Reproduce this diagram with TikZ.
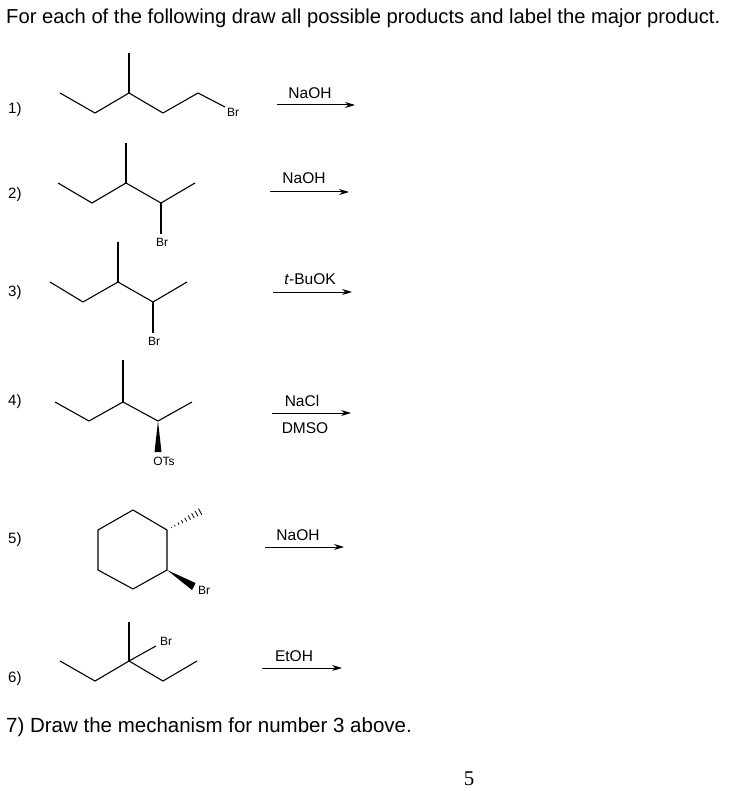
\documentclass[tikz,border=0pt]{standalone}
\usepackage{fontspec}
\setmainfont{Liberation Sans}
\newfontfamily\serifnum{Liberation Serif}
\usetikzlibrary{arrows.meta,calc}
\begin{document}
\begin{tikzpicture}[x=1pt,y=-1pt,
  bond/.style={line width=1.1pt,line join=miter},
  rxn/.style={line width=1pt,-{Stealth[length=10pt,width=6pt]}},
  atom/.style={font=\fontsize{12}{13}\selectfont,inner sep=0pt},
  reag/.style={font=\fontsize{15.5}{17}\selectfont,inner sep=0pt},
  num/.style={font=\fontsize{15}{16}\selectfont,inner sep=0pt,anchor=west}]
\useasboundingbox (0,0) rectangle (734,791);
\fill[white] (0,0) rectangle (734,791);
\node[anchor=west,inner sep=0pt,font=\fontsize{20.2}{22}\selectfont] (title) at (6,18) {For each of the following draw all possible products and label the major product.};
% numbers
\node[num] (n1) at (8,110) {1)};
\node[num] (n2) at (8,195) {2)};
\node[num] (n3) at (8,293) {3)};
\node[num] (n4) at (8,402) {4)};
\node[num] (n5) at (8,540) {5)};
\node[num] (n6) at (8,679) {6)};
\node[anchor=west,inner sep=0pt,font=\fontsize{20.5}{22}\selectfont] (q7) at (6,727) {7) Draw the mechanism for number 3 above.};
\node[inner sep=0pt,font=\serifnum\fontsize{21}{22}\selectfont] (pg) at (469,779) {5};
% 1
\draw[bond] (60,93) -- (95,113) -- (129,93) -- (163,113) -- (198,93) -- (225,107);
\draw[bond] (129,93) -- (129,53);
\node[atom] (br1) at (233,112) {Br};
\coordinate (a1s) at (277,105); \coordinate (a1e) at (355,105);
\draw[rxn] (a1s) -- (a1e);
\node[reag] (r1) at (310,93) {NaOH};
% 2
\draw[bond] (58,183) -- (92,203) -- (126,183) -- (161,203) -- (195,183);
\draw[bond] (126,183) -- (126,143);
\draw[bond] (161,203) -- (161,234);
\node[atom] (br2) at (162,242) {Br};
\coordinate (a2s) at (270,192); \coordinate (a2e) at (349,192);
\draw[rxn] (a2s) -- (a2e);
\node[reag] (r2) at (304,178) {NaOH};
% 3
\draw[bond] (50,282) -- (83,302) -- (118,282) -- (153,302) -- (187,282);
\draw[bond] (118,282) -- (118,242);
\draw[bond] (153,302) -- (153,333);
\node[atom] (br3) at (154,341) {Br};
\coordinate (a3s) at (273,292); \coordinate (a3e) at (352,292);
\draw[rxn] (a3s) -- (a3e);
\node[reag] (r3) at (310,279) {\textit{t}-BuOK};
% 4
\draw[bond] (55,402) -- (89,421) -- (123,402) -- (158,421) -- (192,402);
\draw[bond] (123,402) -- (123,360);
\fill (158,421) -- (161.5,452) -- (154.5,452) -- cycle;
\node[atom] (ots) at (164,461) {OTs};
\coordinate (a4s) at (272,413); \coordinate (a4e) at (351,413);
\draw[rxn] (a4s) -- (a4e);
\node[reag] (r4a) at (302,401) {NaCl};
\node[reag] (r4b) at (305,428) {DMSO};
% 5
\draw[bond] (133,510) -- (167,530) -- (167,570) -- (133,589) -- (98,570) -- (98,530) -- cycle;
\foreach \t in {0.12,0.22,...,1.0}{
  \draw[line width=0.8pt] ($(167,530)!\t!(203,510)+(-\t*1.8,-\t*3.3)$) -- ($(167,530)!\t!(203,510)+(\t*1.8,\t*3.3)$);
}
\fill (167,570) -- (195.5,583) -- (192,590) -- cycle;
\node[atom] (br5) at (204,590) {Br};
\coordinate (a5s) at (265,547); \coordinate (a5e) at (344,547);
\draw[rxn] (a5s) -- (a5e);
\node[reag] (r5) at (298,535) {NaOH};
% 6
\draw[bond] (60,661) -- (95,681) -- (129,661) -- (163,681) -- (197,661);
\draw[bond] (129,661) -- (129,622);
\draw[bond] (129,661) -- (156,646);
\node[atom] (br6) at (166,641) {Br};
\coordinate (a6s) at (262,668); \coordinate (a6e) at (342,668);
\draw[rxn] (a6s) -- (a6e);
\node[reag] (r6) at (294,656) {EtOH};
\end{tikzpicture}
\end{document}
